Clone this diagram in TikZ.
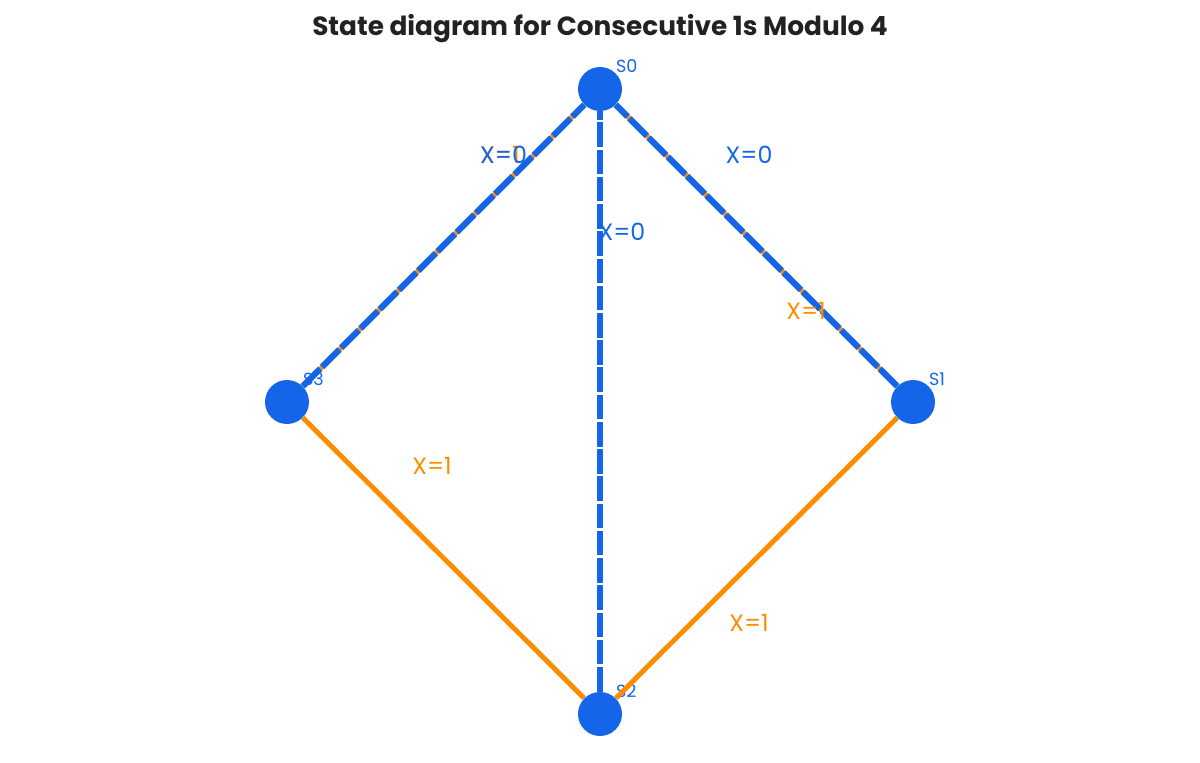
\documentclass[tikz,border=0pt]{standalone}
\usepackage{fontspec}
\setmainfont{Poppins}
\usetikzlibrary{positioning}
\definecolor{zeroedge}{HTML}{1565E8}
\definecolor{oneedge}{HTML}{FF8C00}
\definecolor{ink}{HTML}{222222}
\tikzset{
  state/.style={circle,fill=zeroedge,minimum size=0.88cm,inner sep=0pt},
  statename/.style={text=zeroedge,font=\fontsize{10}{11}\selectfont,
                    inner sep=0pt,label distance=0pt},
  zeroline/.style={draw=zeroedge,line width=3.6pt,dash pattern=on 14pt off 1.5pt},
  oneline/.style={draw=oneedge,line width=2.8pt},
  zerolabel/.style={text=zeroedge,font=\fontsize{13.5}{15}\selectfont},
  onelabel/.style={text=oneedge,font=\fontsize{13.5}{15}\selectfont}
}

\begin{document}
\begin{tikzpicture}[x=0.02cm,y=-0.02cm]
  \useasboundingbox (0,0) rectangle (1200,763);

  % Title
  \node[text=ink,font=\bfseries\fontsize{15}{17}\selectfont] (title) at (600,29)
    {State diagram for Consecutive 1s Modulo 4};

  % States
  \node[state,label={[statename]45:S0}] (s0) at (600,89) {};
  \node[state,label={[statename]45:S1}] (s1) at (913,402) {};
  \node[state,label={[statename]45:S2}] (s2) at (600,714) {};
  \node[state,label={[statename]45:S3}] (s3) at (287,402) {};

  % Transitions on 1
  \draw[oneline] (s0)--(s1);
  \draw[oneline] (s1)--(s2);
  \draw[oneline] (s2)--(s3);
  \draw[oneline] (s3)--(s0);

  % Transitions on 0
  \draw[zeroline] (s1)--(s0);
  \draw[zeroline] (s2)--(s0);
  \draw[zeroline] (s3)--(s0);

  % Edge labels
  \node[onelabel] (l01) at (806,311) {X=1};
  \node[onelabel] (l12) at (749,623) {X=1};
  \node[onelabel] (l23) at (432,466) {X=1};
  \node[onelabel,anchor=west] (l30) at (474,155) {X=1};
  \node[zerolabel] (l10) at (749,155) {X=0};
  \node[zerolabel] (l20) at (622,232) {X=0};
  \node[zerolabel,anchor=west] (l3z) at (474,155) {X=0};
\end{tikzpicture}
\end{document}
